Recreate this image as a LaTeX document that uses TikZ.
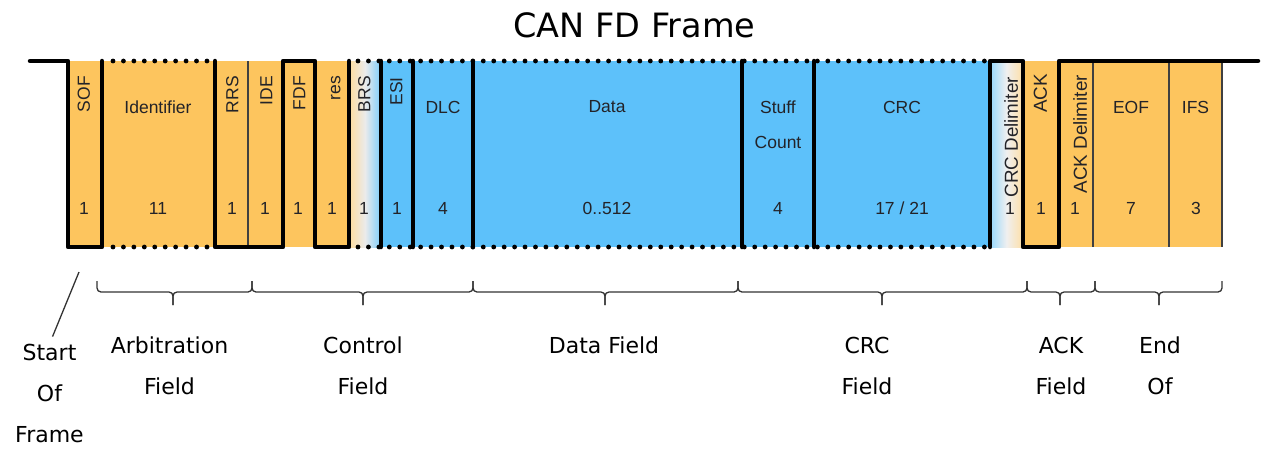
\documentclass[tikz,border=0pt]{standalone}
\usepackage{fontspec}
\setmainfont{Liberation Sans}
\newfontfamily\fieldfont{DejaVu Sans}
\usepackage{xcolor}
\definecolor{canorange}{RGB}{253,197,94}
\definecolor{canblue}{RGB}{93,193,250}
\definecolor{celltext}{RGB}{35,35,40}
\usetikzlibrary{
  positioning
}

\begin{document}
\begin{tikzpicture}[x=1pt, y=-1pt,
    signal/.style = {line width=4.5pt, line join=round, line cap=round},
    dotline/.style = {line width=4.8pt, line cap=round, dash pattern=on 0pt off 10.44pt},
    sep/.style = {line width=1.6pt, black!75},
    bitname/.style = {font=\fontsize{17.5}{21}\selectfont, text=celltext,
      inner sep=0pt, align=center},
    sidename/.style = {bitname, rotate=90, anchor=east, text height=12.5pt, text depth=0pt},
    sidebig/.style = {sidename, font=\fontsize{18.8}{21}\selectfont, text height=13.5pt},
    fieldname/.style = {font=\fieldfont\fontsize{22}{41}\selectfont,
      align=center, anchor=north, inner sep=0pt},
    brace/.style = {line width=1.3pt, black!80, rounded corners=4pt}]
  \fill[white] (0,0) rectangle (1280,456);
  \useasboundingbox (0,0) rectangle (1280,456);

  \node[font=\fieldfont\fontsize{33.5}{40}\selectfont, inner sep=0pt] (title) at (634.5,25) {CAN FD Frame};

  % bit cells
  \fill[canorange] (68,61) rectangle (349,247);
  \shade[left color=canorange!60!white, right color=canblue!80!white, middle color=black!8]
    (349,61) rectangle (381,247);
  \fill[canblue] (381,61) rectangle (990,247);
  \shade[left color=canblue!65!white, right color=canorange!55!white, middle color=black!6]
    (990,61) rectangle (1023,247);
  \fill[canorange] (1023,61) rectangle (1222,247);
  \foreach \x in {248,1093,1169,1222}
    \draw[sep] (\x,61) -- (\x,247);

  % bus level
  \draw[dotline] (113,61) -- (207.5,61);
  \draw[dotline] (113,247) -- (207.5,247);
  \draw[dotline] (358,61) -- (985,61);
  \draw[dotline] (358,247) -- (985,247);
  \draw[signal] (30,61) -- (68,61) -- (68,247) -- (102,247) -- (102,61);
  \draw[signal] (215,61) -- (215,247) -- (283,247) -- (283,61) -- (315,61)
    -- (315,247) -- (349,247) -- (349,61);
  \foreach \x in {381,413,473,742,814}
    \draw[signal] (\x,61) -- (\x,247);
  \draw[signal] (990,247) -- (990,61) -- (1023,61) -- (1023,247) -- (1059,247)
    -- (1059,61) -- (1258,61);

  % bit names
  \node[sidename] (sof) at (83.5,76) {SOF};
  \node[bitname] (ident) at (158,107) {Identifier};
  \node[sidename] (rrs) at (232,76) {RRS};
  \node[sidename] (ide) at (266,76) {IDE};
  \node[sidename] (fdf) at (299,76) {FDF};
  \node[sidename] (res) at (334,76) {res};
  \node[sidename] (brs) at (364,76) {BRS};
  \node[sidename] (esi) at (396,77) {ESI};
  \node[bitname] (dlc) at (443,107) {DLC};
  \node[bitname] (data) at (607,107) {Data};
  \node[bitname, font=\fontsize{17.5}{35}\selectfont] (stuff) at (778,124.5) {Stuff\\Count};
  \node[bitname] (crc) at (902,107) {CRC};
  \node[sidebig] (crcdel) at (1011,77) {CRC Delimiter};
  \node[sidebig] (ack) at (1040,74) {ACK};
  \node[sidebig] (ackdel) at (1080,75) {ACK Delimiter};
  \node[bitname] (eof) at (1131,107) {EOF};
  \node[bitname] (ifs) at (1195.5,107) {IFS};

  % bit counts
  \foreach \x/\n [count=\i] in {84/1, 158/11, 232/1, 265/1, 298/1, 332/1, 364/1, 397/1,
      443/4, 607/{0..512}, 778/4, 902/{17 / 21}, 1010/1, 1041/1, 1075/1, 1131/7, 1196/3}
    \node[bitname] (len\i) at (\x,208) {\n};

  % fields
  \foreach \a/\m/\b in {97/173/252, 252/363/473, 473/605/738, 738/882/1027,
      1027/1060/1095, 1095/1159/1222} {
    \draw[brace] (\a,281) -- (\a,292) -- (\m,292) -- (\m,305);
    \draw[brace] (\m,305) -- (\m,292) -- (\b,292) -- (\b,281);
  }
  \node[fieldname] (sofname) at (49.5,344) {Start\\Of\\Frame};
  \node[fieldname] (arbname) at (169.5,336.5) {Arbitration\\Field};
  \node[fieldname] (ctrlname) at (363,336.5) {Control\\Field};
  \node[fieldname] (dataname) at (604,336.5) {Data Field};
  \node[fieldname] (crcname) at (867,337) {CRC\\Field};
  \node[fieldname] (ackname) at (1061,337) {ACK\\Field};
  \node[fieldname] (eofname) at (1160,336.5) {End\\Of};
  \coordinate (sofpin) at (79,272);
  \draw[line width=1.3pt, black!80, shorten >=8pt] (sofpin) -- (sofname.north);
\end{tikzpicture}
\end{document}
